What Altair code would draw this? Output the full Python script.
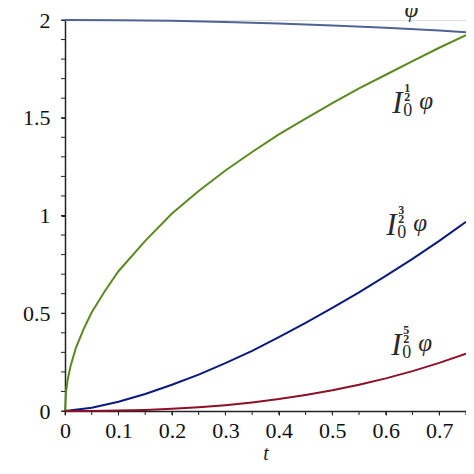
import altair as alt
import pandas as pd

# ---- data ----
t_phi = [0, 0.1, 0.2, 0.3, 0.4, 0.5, 0.6, 0.7, 0.75]
phi = [2.0, 1.999, 1.996, 1.99, 1.982, 1.972, 1.96, 1.946, 1.937]

t_half = [0, 0.002, 0.005, 0.01, 0.02, 0.035, 0.05, 0.075, 0.1, 0.15, 0.2, 0.25,
          0.3, 0.35, 0.4, 0.45, 0.5, 0.55, 0.6, 0.65, 0.7, 0.75]
i_half = [0, 0.1, 0.16, 0.225, 0.32, 0.42, 0.505, 0.615, 0.715, 0.87, 1.01, 1.125,
          1.23, 1.325, 1.415, 1.495, 1.575, 1.65, 1.72, 1.79, 1.858, 1.923]

t_pow = [0, 0.05, 0.1, 0.15, 0.2, 0.25, 0.3, 0.35, 0.4, 0.45, 0.5, 0.55, 0.6,
         0.65, 0.7, 0.75]
i_3half = [0, 0.017, 0.047, 0.087, 0.134, 0.186, 0.245, 0.308, 0.378, 0.451,
           0.527, 0.607, 0.691, 0.778, 0.870, 0.968]
i_5half = [0, 0.0003, 0.002, 0.005, 0.011, 0.019, 0.03, 0.044, 0.061, 0.082,
           0.106, 0.134, 0.167, 0.204, 0.246, 0.293]

series_names = ["phi", "I12", "I32", "I52"]
series_colors = ["#4f6494", "#5b8a1f", "#0b1a7c", "#8c1028"]

# label anchors (data space): left edge / baseline of the "I"
lab_t = [0.612, 0.601, 0.610]
lab_v = [1.525, 0.9, 0.285]
lab_num = ["1", "3", "5"]
phi_lab_t = [0.648]
phi_lab_v = [2.015]

x_major = [round(i * 0.1, 1) for i in range(8)]
y_major = [0, 0.5, 1, 1.5, 2]
x_minor = [round(i * 0.05, 2) for i in range(16)]
y_minor = [round(i * 0.1, 1) for i in range(21)]

rows = []
for t, v in zip(t_phi, phi):
    rows.append({"t": t, "v": v, "s": "phi"})
for t, v in zip(t_half, i_half):
    rows.append({"t": t, "v": v, "s": "I12"})
for t, v in zip(t_pow, i_3half):
    rows.append({"t": t, "v": v, "s": "I32"})
for t, v in zip(t_pow, i_5half):
    rows.append({"t": t, "v": v, "s": "I52"})
df = pd.DataFrame(rows)

labels = pd.DataFrame({"t": lab_t, "v": lab_v, "num": lab_num})
phi_label = pd.DataFrame({"t": phi_lab_t, "v": phi_lab_v})

FONT = "Liberation Serif"
AXFONT = "Times New Roman"

x_scale = alt.Scale(domain=[0, 0.75], nice=False, zero=False)
y_scale = alt.Scale(domain=[0, 2], nice=False)

x_axis = alt.Axis(values=x_major, title="t", format="~g", titlePadding=2, labelPadding=5,
                  labelFont=AXFONT, titleFont=AXFONT)
y_axis = alt.Axis(values=y_major, title=None, format="~g", labelPadding=11,
                  labelFont=AXFONT)

lines = alt.Chart(df).mark_line(strokeWidth=2, clip=False).encode(
    x=alt.X("t:Q", scale=x_scale, axis=x_axis),
    y=alt.Y("v:Q", scale=y_scale, axis=y_axis),
    color=alt.Color("s:N", scale=alt.Scale(domain=series_names, range=series_colors), legend=None),
    detail="s:N",
)

xminor = alt.Chart(pd.DataFrame({"t": x_minor})).mark_rule(color="#222", strokeWidth=1).encode(
    x=alt.X("t:Q"), y=alt.value(391), y2=alt.value(395))
yminor = alt.Chart(pd.DataFrame({"v": y_minor})).mark_rule(color="#222", strokeWidth=1).encode(
    y=alt.Y("v:Q"), x=alt.value(-4), x2=alt.value(0))

base_lab = alt.Chart(labels).encode(x="t:Q", y="v:Q")
txt_color = "#2a2a2a"
big_I = base_lab.mark_text(text="I", font=FONT, fontStyle="italic", fontSize=31,
                           align="left", baseline="alphabetic", color=txt_color)
sub0 = base_lab.mark_text(text="0", font=FONT, fontSize=18, align="left",
                          baseline="alphabetic", dx=11, dy=3, color=txt_color)
numer = base_lab.mark_text(font=FONT, fontSize=12, fontWeight="bold", align="center",
                           baseline="alphabetic", dx=15, dy=-21, color=txt_color).encode(text="num:N")
denom = base_lab.mark_text(text="2", font=FONT, fontSize=12, fontWeight="bold", align="center",
                           baseline="alphabetic", dx=15, dy=-12, color=txt_color)
phis = base_lab.mark_text(text="φ", font=FONT, fontStyle="italic", fontSize=25,
                          align="left", baseline="alphabetic", dx=27, dy=-4, color=txt_color)
top_phi = alt.Chart(phi_label).mark_text(text="φ", font=FONT, fontStyle="italic", fontSize=25,
                                         align="center", baseline="alphabetic",
                                         color=txt_color).encode(x="t:Q", y="v:Q")

chart = alt.layer(lines, xminor, yminor, big_I, sub0, numer, denom, phis, top_phi).properties(
    width=401, height=391,
    autosize=alt.AutoSizeParams(type="none"),
    padding={"left": 57, "top": 12, "right": 0, "bottom": 55},
).configure_view(stroke=None).configure(background="white").configure_axis(
    labelFontSize=22, labelColor="#111", labelFlush=False,
    titleFontStyle="italic", titleFontWeight="normal",
    titleFontSize=20, titleColor="#222",
    tickSize=4, tickColor="#222", domainColor="#222", domainWidth=1.5, grid=False,
)

chart.save("out.html", embed_options={"renderer": "svg", "actions": False})
